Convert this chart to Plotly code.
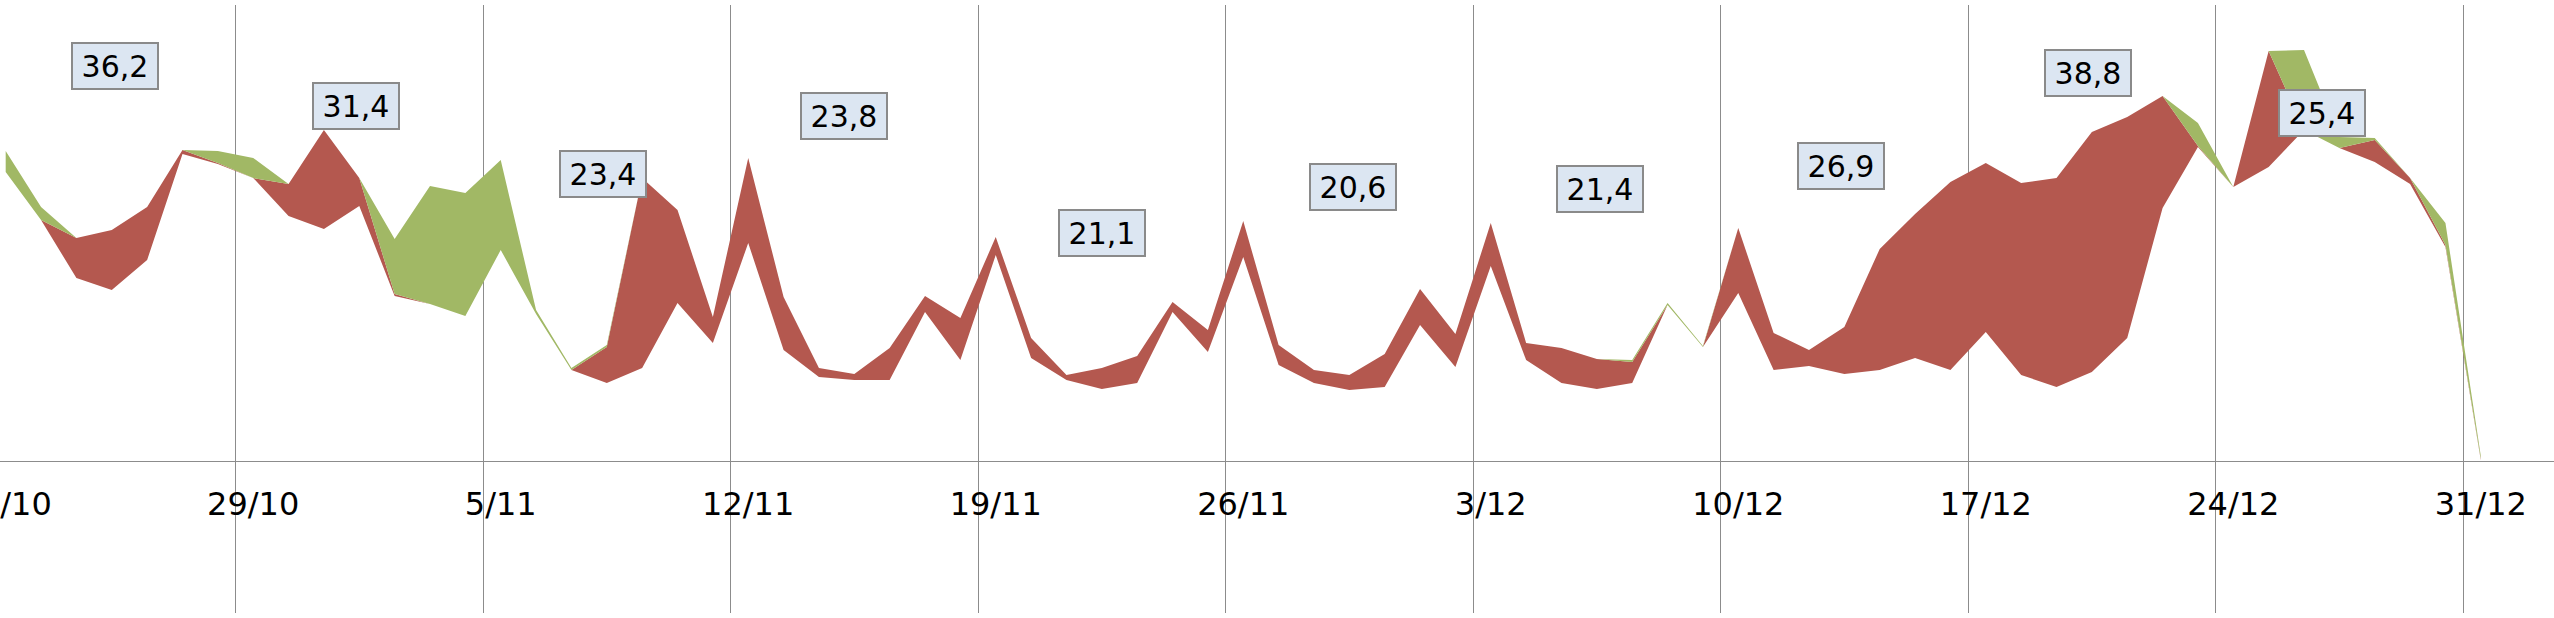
import plotly.graph_objects as go
import pandas as pd

days = pd.date_range("2012-10-22", "2012-12-31", freq="D")

# bottom of the band, then the red and green thickness stacked on top of it
base = [28.9, 24.1, 18.3, 17.1, 20.1, 30.7, 29.7, 28.3, 24.5, 23.2,
        25.5, 16.5, 15.7, 14.5, 21.1, 14.7, 9.1, 7.8, 9.3, 15.8,
        11.8, 21.8, 11.1, 8.4, 8.1, 8.1, 14.9, 10.1, 20.6, 10.3,
        8.1, 7.2, 7.8, 14.9, 10.9, 20.4, 9.6, 7.8, 7.1, 7.4,
        13.6, 9.4, 19.5, 10.1, 7.8, 7.2, 7.8, 15.6, 11.4, 16.8,
        9.1, 9.5, 8.7, 9.1, 10.3, 9.1, 12.9, 8.6, 7.4, 8.9,
        12.3, 25.3, 31.4, 27.4, 29.4, 33.1, 31.3, 29.9, 27.7, 21.4,
        0.1]
red_gap = [0, 0, 4.0, 6.0, 5.3, 0.4, 0.1, 0, 3.2, 9.9,
           2.8, 0.2, 0, 0, 0, 0, 0, 3.6, 19.0, 9.3,
           2.6, 8.5, 5.3, 0.9, 0.6, 3.2, 1.6, 4.2, 1.8, 2.0,
           0.5, 2.1, 2.7, 1.0, 2.2, 3.6, 2.0, 1.3, 1.5, 3.3,
           3.6, 3.3, 4.3, 1.7, 3.5, 3.0, 2.1, 0, 0, 6.5,
           3.7, 1.6, 4.7, 12.1, 14.4, 18.8, 16.9, 19.2, 20.9, 24.0,
           22.1, 11.2, 0.1, 0, 11.6, 0, 0, 2.2, 0.6, 0.2,
           0.1]
green_gap = [2.1, 1.3, 0, 0, 0, 0, 1.2, 2.0, 0, 0,
             0, 5.5, 11.8, 12.3, 9.0, 0.4, 0.2, 0.2, 0, 0,
             0, 0, 0, 0, 0, 0, 0, 0, 0, 0,
             0, 0, 0, 0, 0, 0, 0, 0, 0, 0,
             0, 0, 0, 0, 0, 0, 0.2, 0.2, 0.1, 0,
             0, 0, 0, 0, 0, 0, 0, 0, 0, 0,
             0, 0, 2.3, 0, 0, 8.0, 1.1, 0.2, 0, 2.2,
             0.3]

tick_labels = ["22/10", "29/10", "5/11", "12/11", "19/11", "26/11",
               "3/12", "10/12", "17/12", "24/12", "31/12"]

week_labels = ["36,2", "31,4", "23,4", "23,8", "21,1",
               "20,6", "21,4", "26,9", "38,8", "25,4"]
label_day = [3.1, 9.9, 16.9, 23.7, 31.0, 38.1, 45.1, 51.9, 58.9, 65.5]
label_y = [39.5, 35.5, 28.7, 34.5, 22.8, 27.4, 27.2, 29.5, 38.8, 34.8]

RED = "#B4584F"
GREEN = "#A1B865"
GRID = "#8c8c8c"
FONT = "DejaVu Sans"

fig = go.Figure()
fig.add_trace(go.Scatter(x=days, y=base, stackgroup="band", mode="none",
                         fillcolor="rgba(0,0,0,0)", hoverinfo="skip"))
fig.add_trace(go.Scatter(x=days, y=red_gap, stackgroup="band", mode="none",
                         fillcolor=RED, hoverinfo="skip"))
fig.add_trace(go.Scatter(x=days, y=green_gap, stackgroup="band", mode="none",
                         fillcolor=GREEN, hoverinfo="skip"))

day0 = days[0]
for txt, d, yv in zip(week_labels, label_day, label_y):
    fig.add_annotation(x=day0 + pd.Timedelta(days=d), y=yv, xref="x", yref="y",
                       text=txt, showarrow=False,
                       font=dict(family=FONT, size=30, color="black"),
                       bgcolor="#DCE6F2", bordercolor="#8a8a8a", borderwidth=2,
                       borderpad=2, width=80, height=40)

fig.update_layout(
    width=2554, height=618,
    margin=dict(l=0, r=0, t=5, b=5),
    paper_bgcolor="white", plot_bgcolor="white",
    showlegend=False,
    xaxis=dict(
        type="date",
        range=[day0 - pd.Timedelta(days=0.161), day0 + pd.Timedelta(days=72.07)],
        anchor="free", position=0.25, automargin=False,
        showline=True, linecolor=GRID, linewidth=1,
        tickmode="array", tickvals=list(days[::7]), ticktext=tick_labels,
        ticks="", ticklabelstandoff=15, ticklabeloverflow="allow",
        tickfont=dict(family=FONT, size=32, color="black"),
        showgrid=False, zeroline=False,
        minor=dict(showgrid=True, gridcolor=GRID, gridwidth=1,
                   tick0=day0 - pd.Timedelta(hours=12), dtick=7 * 86400000),
    ),
    yaxis=dict(range=[-15.2, 45.6], showgrid=False, zeroline=False,
               showticklabels=False, showline=False, automargin=False),
)

fig.write_html("out.html", config={"displayModeBar": False},
               post_script="document.body.style.margin='0';document.body.style.overflow='hidden';")
